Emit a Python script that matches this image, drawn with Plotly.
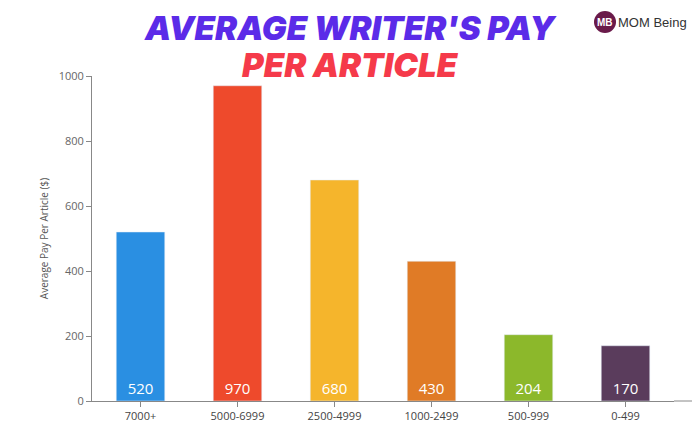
import plotly.graph_objects as go

categories = ["7000+", "5000-6999", "2500-4999", "1000-2499", "500-999", "0-499"]
values = [520, 970, 680, 430, 204, 170]
colors = ["#2a8fe2", "#ee4a2c", "#f5b52c", "#e07b26", "#8cb82b", "#5a3c5c"]
yticks = [0, 200, 400, 600, 800, 1000]

OFF = 8  # page body margin
W, H = 700, 430
L, R, T, B = 92 - OFF, 34, 76 - OFF, 29 + OFF
pw, ph = W - L - R, H - T - B
def px(x): return (x - OFF - L) / pw
def py(y): return (H - B - (y - OFF)) / ph

fig = go.Figure(go.Bar(
    x=categories, y=values, marker_color=colors, width=0.5,
    text=[str(v) for v in values], textposition="inside", insidetextanchor="start",
    textfont=dict(color="white", size=15, family="Open Sans"),
))
fig.update_layout(
    width=W, height=H, paper_bgcolor="white", plot_bgcolor="rgba(0,0,0,0)",
    margin=dict(l=L, r=R, t=T, b=B), showlegend=False,
    font=dict(family="Open Sans", color="#555"),
    xaxis=dict(showline=True, linecolor="#888", ticks="outside", tickcolor="#888",
               ticklen=5, tickfont=dict(size=11, color="#444")),
    yaxis=dict(range=[0, 1000], tickvals=yticks, showgrid=False, showline=True,
               linecolor="#888", ticks="outside", tickcolor="#888", ticklen=5,
               tickfont=dict(size=11, color="#666"),
               title=dict(text="Average Pay Per Article ($)", font=dict(size=10, color="#555"), standoff=8)),
)
fig.add_shape(type="line", xref="paper", yref="paper", x0=1, x1=px(700), y0=0, y1=0,
              line=dict(color="#888", width=1))
fig.add_annotation(text="AVERAGE WRITER'S PAY", x=px(350), y=py(28), xref="paper", yref="paper",
                   showarrow=False, xanchor="center", yanchor="middle",
                   font=dict(family="Inter", size=33, color="#5b2be8", weight=900, style="italic"))
fig.add_annotation(text="PER ARTICLE", x=px(350), y=py(65), xref="paper", yref="paper",
                   showarrow=False, xanchor="center", yanchor="middle",
                   font=dict(family="Inter", size=33, color="#f53a4a", weight=900, style="italic"))
fig.add_shape(type="circle", xref="paper", yref="paper", x0=px(594), x1=px(616), y0=py(11), y1=py(33),
              fillcolor="#6a1a4a", line=dict(width=0))
fig.add_annotation(text="<b>MB</b>", x=px(605), y=py(22), xref="paper", yref="paper", showarrow=False,
                   xanchor="center", yanchor="middle",
                   font=dict(size=10, color="white", family="Liberation Sans"))
fig.add_annotation(text="MOM Being", x=px(616), y=py(22), xref="paper", yref="paper", showarrow=False,
                   xanchor="left", yanchor="middle", font=dict(size=13, color="#333", family="Liberation Sans"))
fig.write_html("out.html")
